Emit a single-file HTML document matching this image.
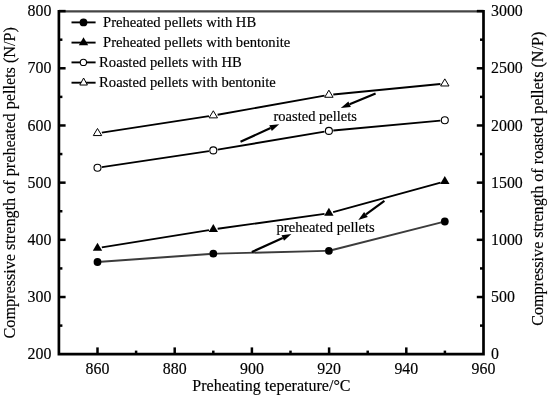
<!DOCTYPE html>
<html><head><meta charset="utf-8"><title>Compressive strength chart</title>
<style>html,body{margin:0;padding:0;background:#fff}svg{display:block}text{font-family:"Liberation Serif","Times New Roman",serif;fill:#000;stroke:#000;stroke-width:0.16px}</style></head><body>
<svg width="550" height="399" viewBox="0 0 550 399">
<rect width="550" height="399" fill="#fff"/>
<path d="M58.9 11.3H483.5" stroke="#444" stroke-width="2.3" fill="none"/>
<path d="M58.9 10.0V354.2H483.5V10.0" stroke="#000" stroke-width="2.7" fill="none" stroke-linejoin="miter"/>
<g stroke="#000" stroke-width="2.5" fill="none">
<path d="M58.9 325.61h3.5"/>
<path d="M483.5 325.61h-3.5"/>
<path d="M58.9 297.02h6.7"/>
<path d="M483.5 297.02h-6.7"/>
<path d="M58.9 268.43h3.5"/>
<path d="M483.5 268.43h-3.5"/>
<path d="M58.9 239.83h6.7"/>
<path d="M483.5 239.83h-6.7"/>
<path d="M58.9 211.24h3.5"/>
<path d="M483.5 211.24h-3.5"/>
<path d="M58.9 182.65h6.7"/>
<path d="M483.5 182.65h-6.7"/>
<path d="M58.9 154.06h3.5"/>
<path d="M483.5 154.06h-3.5"/>
<path d="M58.9 125.47h6.7"/>
<path d="M483.5 125.47h-6.7"/>
<path d="M58.9 96.88h3.5"/>
<path d="M483.5 96.88h-3.5"/>
<path d="M58.9 68.28h6.7"/>
<path d="M483.5 68.28h-6.7"/>
<path d="M58.9 39.69h3.5"/>
<path d="M483.5 39.69h-3.5"/>
<path d="M58.9 11.10h6.7"/>
<path d="M483.5 11.10h-6.7"/>
<path d="M97.50 354.2v-6.8"/>
<path d="M136.10 354.2v-3.6"/>
<path d="M174.70 354.2v-6.8"/>
<path d="M213.30 354.2v-3.6"/>
<path d="M251.90 354.2v-6.8"/>
<path d="M290.50 354.2v-3.6"/>
<path d="M329.10 354.2v-6.8"/>
<path d="M367.70 354.2v-3.6"/>
<path d="M406.30 354.2v-6.8"/>
<path d="M444.90 354.2v-3.6"/>
</g>
<text transform="translate(51.40 359.25) scale(0.952 1)" font-size="16.7" text-anchor="end">200</text>
<text transform="translate(51.40 302.07) scale(0.952 1)" font-size="16.7" text-anchor="end">300</text>
<text transform="translate(51.40 244.88) scale(0.952 1)" font-size="16.7" text-anchor="end">400</text>
<text transform="translate(51.40 187.70) scale(0.952 1)" font-size="16.7" text-anchor="end">500</text>
<text transform="translate(51.40 130.52) scale(0.952 1)" font-size="16.7" text-anchor="end">600</text>
<text transform="translate(51.40 73.33) scale(0.952 1)" font-size="16.7" text-anchor="end">700</text>
<text transform="translate(51.40 16.15) scale(0.952 1)" font-size="16.7" text-anchor="end">800</text>
<text transform="translate(491.00 359.30) scale(0.952 1)" font-size="16.7" text-anchor="start">0</text>
<text transform="translate(491.00 302.12) scale(0.952 1)" font-size="16.7" text-anchor="start">500</text>
<text transform="translate(491.00 244.93) scale(0.952 1)" font-size="16.7" text-anchor="start">1000</text>
<text transform="translate(491.00 187.75) scale(0.952 1)" font-size="16.7" text-anchor="start">1500</text>
<text transform="translate(491.00 130.57) scale(0.952 1)" font-size="16.7" text-anchor="start">2000</text>
<text transform="translate(491.00 73.38) scale(0.952 1)" font-size="16.7" text-anchor="start">2500</text>
<text transform="translate(491.00 16.20) scale(0.952 1)" font-size="16.7" text-anchor="start">3000</text>
<text transform="translate(97.50 374.10) scale(0.952 1)" font-size="16.7" text-anchor="middle">860</text>
<text transform="translate(174.70 374.10) scale(0.952 1)" font-size="16.7" text-anchor="middle">880</text>
<text transform="translate(251.90 374.10) scale(0.952 1)" font-size="16.7" text-anchor="middle">900</text>
<text transform="translate(329.10 374.10) scale(0.952 1)" font-size="16.7" text-anchor="middle">920</text>
<text transform="translate(406.30 374.10) scale(0.952 1)" font-size="16.7" text-anchor="middle">940</text>
<text transform="translate(483.50 374.10) scale(0.952 1)" font-size="16.7" text-anchor="middle">960</text>
<text transform="translate(15.30 182.80) rotate(-90) scale(0.969 1)" font-size="16.7" text-anchor="middle">Compressive strength of preheated pellets (N/P)</text>
<text transform="translate(542.60 178.80) rotate(-90) scale(0.966 1)" font-size="16.7" text-anchor="middle">Compressive strength of roasted pellets (N/P)</text>
<text transform="translate(271.40 391.40) scale(0.961 1)" font-size="16.7" text-anchor="middle">Preheating teperature/°C</text>
<path d="M100.99 261.75L209.81 253.95M216.80 253.61L325.40 250.89M332.29 249.94L441.41 222.36" fill="none" stroke="#3c3c3c" stroke-width="1.95"/>
<path d="M101.84 247.30L208.96 230.10M217.66 228.79L324.54 213.81M333.14 212.04L440.56 182.56" fill="none" stroke="#000" stroke-width="1.85"/>
<path d="M101.85 167.05L208.95 151.05M217.64 149.67L324.56 131.63M333.28 130.50L440.42 120.70" fill="none" stroke="#000" stroke-width="1.85"/>
<path d="M101.85 132.54L208.95 116.16M217.63 114.73L324.57 95.67M333.28 94.47L440.42 84.03" fill="none" stroke="#000" stroke-width="1.85"/>
<circle cx="97.50" cy="262.00" r="3.9" fill="#000"/>
<circle cx="213.30" cy="253.70" r="3.9" fill="#000"/>
<circle cx="328.90" cy="250.80" r="3.9" fill="#000"/>
<circle cx="444.80" cy="221.50" r="3.9" fill="#000"/>
<path d="M97.50 242.67L102.20 250.67H92.80Z" fill="#000"/>
<path d="M213.30 224.07L218.00 232.07H208.60Z" fill="#000"/>
<path d="M328.90 207.87L333.60 215.87H324.20Z" fill="#000"/>
<path d="M444.80 176.07L449.50 184.07H440.10Z" fill="#000"/>
<circle cx="97.50" cy="167.70" r="3.5" fill="#fff" stroke="#000" stroke-width="1.1"/>
<circle cx="213.30" cy="150.40" r="3.5" fill="#fff" stroke="#000" stroke-width="1.1"/>
<circle cx="328.90" cy="130.90" r="3.5" fill="#fff" stroke="#000" stroke-width="1.1"/>
<circle cx="444.80" cy="120.30" r="3.5" fill="#fff" stroke="#000" stroke-width="1.1"/>
<path d="M97.50 128.47L101.70 135.57H93.30Z" fill="#fff" stroke="#000" stroke-width="1"/>
<path d="M213.30 110.77L217.50 117.87H209.10Z" fill="#fff" stroke="#000" stroke-width="1"/>
<path d="M328.90 90.17L333.10 97.27H324.70Z" fill="#fff" stroke="#000" stroke-width="1"/>
<path d="M444.80 78.87L449.00 85.97H440.60Z" fill="#fff" stroke="#000" stroke-width="1"/>
<path d="M71.5 22.4H95.6" stroke="#000" stroke-width="1.9"/>
<circle cx="83.50" cy="22.40" r="3.9" fill="#000"/>
<text transform="translate(103.00 27.00) scale(1.003 1)" font-size="14.6" text-anchor="start">Preheated pellets with HB</text>
<path d="M71.5 42.6H95.6" stroke="#000" stroke-width="1.9"/>
<path d="M83.50 37.27L88.20 45.27H78.80Z" fill="#000"/>
<text transform="translate(103.00 46.60) scale(1.003 1)" font-size="14.6" text-anchor="start">Preheated pellets with bentonite</text>
<path d="M71.5 62.4H95.6" stroke="#000" stroke-width="1.9"/>
<circle cx="83.40" cy="62.40" r="3.15" fill="#fff" stroke="#000" stroke-width="1.1"/>
<text transform="translate(99.10 66.80) scale(1.003 1)" font-size="14.6" text-anchor="start">Roasted pellets with HB</text>
<path d="M71.5 82.7H95.6" stroke="#000" stroke-width="1.9"/>
<path d="M83.60 78.03L87.40 85.03H79.80Z" fill="#fff" stroke="#000" stroke-width="1"/>
<text transform="translate(99.10 86.60) scale(1.003 1)" font-size="14.6" text-anchor="start">Roasted pellets with bentonite</text>
<text transform="translate(273.50 121.30) scale(0.995 1)" font-size="14.6" text-anchor="start">roasted pellets</text>
<text transform="translate(276.60 231.90) scale(0.997 1)" font-size="14.6" text-anchor="start">preheated pellets</text>
<path d="M240.5 141.8L270.6 128.1" stroke="#000" stroke-width="2.2" fill="none"/>
<path d="M279.2 124.2L271.8 131.0L269.3 125.3Z" fill="#000"/>
<path d="M375.6 93.5L349.6 104.3" stroke="#000" stroke-width="2.2" fill="none"/>
<path d="M340.8 107.9L348.4 101.4L350.8 107.1Z" fill="#000"/>
<path d="M251.8 252.0L282.7 238.0" stroke="#000" stroke-width="2.2" fill="none"/>
<path d="M291.4 234.1L284.0 240.8L281.5 235.2Z" fill="#000"/>
<path d="M384.4 200.9L366.0 214.4" stroke="#000" stroke-width="2.2" fill="none"/>
<path d="M358.3 220.0L364.1 211.9L367.8 216.9Z" fill="#000"/>
</svg></body></html>
